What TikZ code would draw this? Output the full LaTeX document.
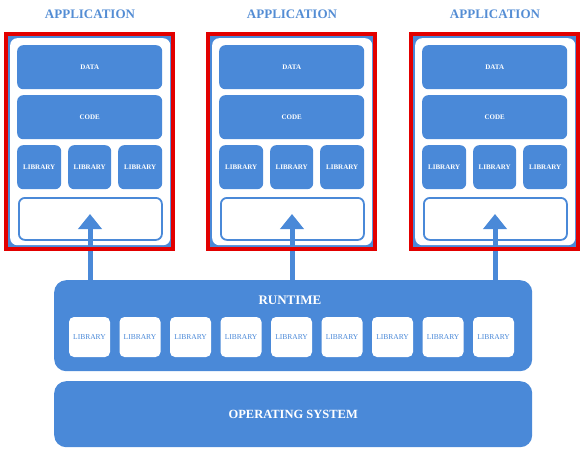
\documentclass[tikz,border=0pt]{standalone}
\usepackage{fontspec}
\setmainfont{Liberation Serif}
\usetikzlibrary{arrows.meta}
\definecolor{boxblue}{RGB}{74,137,216}
\definecolor{titleblue}{RGB}{84,141,212}
\definecolor{framered}{RGB}{226,0,0}
\begin{document}
\begin{tikzpicture}[x=1pt,y=-1pt,
  bluebox/.style={draw=none, fill=boxblue, rounded corners=6pt, text=white, inner sep=0pt,
    font=\bfseries\fontsize{7}{8}\selectfont, anchor=north west},
  framebg/.style={draw=none, fill=boxblue, inner sep=0pt, anchor=north west},
  innerwhite/.style={draw=none, fill=white, rounded corners=7pt, inner sep=0pt, anchor=north west},
  slotbox/.style={draw=boxblue, line width=1.8pt, fill=white, rounded corners=6pt, inner sep=0pt, anchor=north west},
  apptitle/.style={text=titleblue, font=\bfseries\fontsize{13}{15}\selectfont, inner sep=0pt},
  bigbox/.style={draw=none, fill=boxblue, rounded corners=12pt, inner sep=0pt, anchor=north west},
  bigtext/.style={text=white, font=\bfseries\fontsize{13}{15}\selectfont, inner sep=0pt},
  rtlib/.style={draw=none, fill=white, rounded corners=5pt, inner sep=0pt, minimum width=41pt, minimum height=40pt,
    text=boxblue, font=\fontsize{7.5}{9}\selectfont},
  uparrow/.style={draw=boxblue, line width=5pt, -{Triangle[width=23pt,length=15pt]}},
  redframe/.style={draw=framered, line width=4pt}
]
\useasboundingbox (0,0) rectangle (586,460);

% runtime and operating system
\node[bigbox, minimum width=478pt, minimum height=91pt] (runtime) at (54,280) {};
\node[bigtext] (rtlabel) at (290,300) {RUNTIME};
\foreach \k in {0,...,8} {
  \node[rtlib] (rl\k) at (89.5+50.5*\k,337) {LIBRARY};
}
\node[bigbox, minimum width=478pt, minimum height=66pt] (os) at (54,381) {};
\node[bigtext, font=\bfseries\fontsize{12.5}{15}\selectfont] (oslabel) at (os.center) {OPERATING SYSTEM};

% applications
\foreach \o/\i in {4/1,206/2,409/3} {
  \node[apptitle] (title\i) at (\o+86,14) {APPLICATION};
  \node[framebg, minimum width=167pt, minimum height=215pt] (frame\i) at (\o+2,34) {};
  \node[innerwhite, minimum width=160pt, minimum height=207pt] (inner\i) at (\o+6,38) {};
  \node[bluebox, minimum width=145pt, minimum height=44pt] (data\i) at (\o+13,45) {DATA};
  \node[bluebox, minimum width=145pt, minimum height=44pt] (code\i) at (\o+13,95) {CODE};
  \node[bluebox, minimum width=44pt, minimum height=44pt] (liba\i) at (\o+13,145) {LIBRARY};
  \node[bluebox, minimum width=43pt, minimum height=44pt] (libb\i) at (\o+64,145) {LIBRARY};
  \node[bluebox, minimum width=44pt, minimum height=44pt] (libc\i) at (\o+114,145) {LIBRARY};
  \node[slotbox, minimum width=143pt, minimum height=42pt] (slot\i) at (\o+14,197) {};
  \coordinate (tip\i) at (\o+86,214);
  \draw[uparrow] (runtime.north -| tip\i) -- (tip\i);
  \draw[redframe] (frame\i.north west) rectangle (frame\i.south east);
}
\end{tikzpicture}
\end{document}
